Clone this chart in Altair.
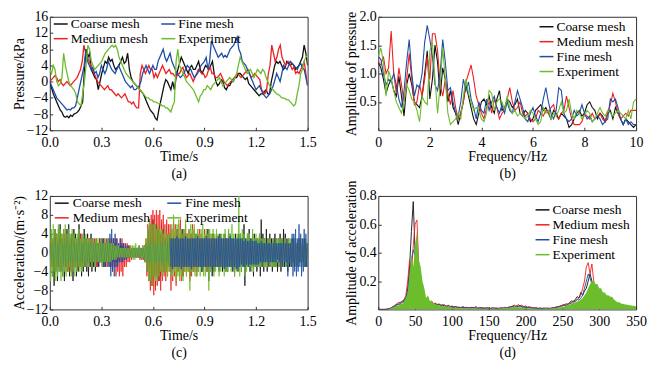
import altair as alt
import pandas as pd
import numpy as np

SERIES = ["Coarse mesh", "Medium mesh", "Fine mesh", "Experiment"]
COLORS = {"Coarse mesh": "#111111", "Medium mesh": "#ee2020",
          "Fine mesh": "#1f4ea6", "Experiment": "#6cbd2c"}
FONT = "Liberation Serif"

# ---------------- (a) pressure vs time (0 .. 1.5 s, 0.01 s step) ----------------
a_coarse = [0,-1.5,-3,-4,-5,-6,-7,-7.5,-8.5,-8.8,-8.5,-8.9,-8.3,-8.6,-8,-7.8,-7.5,-7,-6,-5,3,8,6,7,3,2,1,0.5,-2,0,2,3.5,5,4.5,6,5,5.5,4,3,3.5,4,5,6,4.5,5,7,3,1,0,-0.5,-1,-1.5,-2,-2.5,-3,-4,-5,-6,-7,-7.5,-8,-9,-9.5,-7,-5,-3,-1,0.5,0,-1,-2,0,-2,1,3,4.5,6,5,4,3,2,3.5,4,3,3,4,5,3,2,3,4,3.5,3,4,5,2,0,-1,-0.5,0.5,0,-1.5,-2,-1,-1,0,0,1,1,2,2,1.5,1,0.5,1,-0.5,-1,-1.5,-2,-2.5,-3,-3.5,-3,-3,-2.5,-2,-3,-3,0,2,4,5,4.5,5,4,3,3.5,5,4.5,4,4.5,4,3,3.5,4,5,6,9,7,4]
a_medium = [0,0.5,1,1.5,1,0,0.5,-0.5,-1,-0.5,0,-0.5,-1,-0.5,0,0.5,1,2,3,5,9,7,6,5,4,3,2,1,0,-0.5,-1,-1.5,-2,-1.5,-1,-2,-2,-2.5,-3,-3.5,-3,-3.5,-4,-3.5,-3,-4,-5,-5,-5.5,-5,-6,-6.5,-6.5,2,4,3,2,3,4,3,3,1,2,1,2,3,4,3,2,2.5,3,2,2,1.5,1,2,2,3,3.5,2,1,1.5,2,1,0,1,2,3,2.5,2,2,1,1.5,3,3.5,2,2,1,1,1.5,2,1,0,-0.5,-1,-0.5,0,0.5,1,1.5,2,1.5,1,1.5,2,2.5,3,2,1,1.5,2,1.5,1,0.5,-2,-2.5,-3,-2,2,4,9,7,5,6,8,9,6,5,4,4.5,5,4,3,3.5,2,2.5,2,3,4,5,2,-1]
a_fine = [0,-1,-2,-3,-4,-4.5,-5,-5.5,-6,-6.5,-7,-6.8,-7,-6.5,-6.5,-6,-4,-2,0,2,4,8,5,4,3,3.5,2,2.5,1,2,4,3,2,3,5,4,3,2.5,2,3,4,3,2,1,0,-0.5,-1,-1.5,-1,-2,-2,-1.5,-1,0,2,3,4,3,2,3,4,3,3,5,6,7,8,6,5,6,7,5,4,3,2,1.5,1,1.5,2,3,4,3.5,3,2,1,1.5,2,3,4,4.5,5,6,3,5,10,9,8,7,6,6.5,7,6,6.5,6,7,8,8.5,9,10,11,8,7,5,4.5,4,3,2,1,0,-1,-2,-1.5,-1,-2,-3,-3.5,-4,-3.5,-3,-2,-1,0.5,2,1,0,2,4,3.5,3,4,5,4.5,4,3.5,3,4,4.5,3.5,3,1,-1]
a_exp = [3,2,4,3,0,-1,-0.5,1,7,4,2,0,-1,-1.5,-2,-3,-5,-5.5,-6,-3,0,4,9,8,5,4,3,3.5,4,4.5,5,6,7,7.5,8,8.5,9,8.5,9,8,6,5,4,3,2,1.5,1,0.5,0,-0.5,-1,-1.5,-2,-2.5,-3,-3.5,-4,-4,-4.5,-4.5,-5,-5,-5.2,-5.5,-5.5,-6,-6,-6.5,-6.5,-7,-7.5,-6,-5,5,8,4,3,2,1,0,-0.5,-1,-1.5,-2,-3,-4,-5,-3.5,-3,-2,-2,-1,-1.5,-2,-1,-0.5,0,0.5,1,0,-1,-0.5,0,0.5,1,0.5,0,1,2,4,6,5,4,3,2,2.5,3,2,1,2,3,2.5,2,3,2.5,1,0,-1,-1.5,-2,-2.5,-3,-3.2,-3.5,-4,-4,-4.2,-4.5,-4.5,-5,-5.5,-6,-5.5,-3,-1,2,3,5,6,6.5]

# ---------------- (b) pressure amplitude vs frequency (0 .. 10 Hz, 0.1 Hz step) ----------------
b_coarse = [1.2,1.1,0.9,0.65,0.8,0.9,0.7,0.6,0.95,0.6,0.25,0.8,1.0,0.8,0.5,0.45,0.4,0.6,1.0,1.4,0.55,0.9,1.5,1.2,0.6,1.1,0.9,0.5,0.7,0.4,0.3,0.1,0.3,0.5,0.8,0.6,0.4,0.2,0.1,0.3,0.5,0.55,0.45,0.6,0.4,0.3,0.55,0.7,0.35,0.4,0.55,0.5,0.4,0.45,0.55,0.3,0.25,0.35,0.3,0.15,0.2,0.35,0.4,0.45,0.35,0.4,0.3,0.2,0.35,0.3,0.2,0.3,0.25,0.2,0.05,0.1,0.2,0.3,0.35,0.25,0.3,0.45,0.5,0.4,0.35,0.2,0.3,0.25,0.15,0.3,0.35,0.2,0.4,0.3,0.2,0.1,0.2,0.15,0.1,0.05,0.1]
b_medium = [1.2,1.15,1.3,1.0,1.1,1.75,1.0,0.65,1.1,0.8,0.5,0.9,1.35,0.9,0.45,0.5,0.8,0.6,0.9,1.3,0.9,1.7,1.7,1.4,0.8,0.6,0.9,0.65,0.45,0.7,0.4,0.2,0.3,0.5,0.85,1.0,1.15,0.9,0.6,0.45,0.3,0.2,0.4,0.5,0.3,0.55,0.4,0.2,0.3,0.35,0.55,0.75,0.5,0.35,0.4,0.5,0.3,0.25,0.3,0.2,0.15,0.2,0.35,0.3,0.25,0.35,0.3,0.4,0.45,0.25,0.2,0.3,0.35,0.6,0.4,0.2,0.1,0.1,0.1,0.15,0.3,0.25,0.2,0.3,0.2,0.25,0.3,0.2,0.15,0.3,0.45,0.65,0.5,0.3,0.2,0.25,0.3,0.25,0.35,0.35,0.35]
b_fine = [1.3,1.25,1.0,0.8,0.9,0.85,1.0,0.8,0.55,0.4,0.7,1.2,1.6,1.0,0.6,0.8,0.75,1.0,1.55,1.85,1.6,1.3,0.8,0.7,1.0,1.6,1.2,0.7,0.75,0.5,0.3,0.25,0.5,0.9,0.7,0.85,0.55,0.4,0.2,0.5,0.35,0.3,0.55,0.35,0.5,0.6,0.4,0.3,0.45,0.3,0.5,0.35,0.3,0.5,0.7,0.55,0.4,0.2,0.15,0.3,0.4,0.25,0.15,0.3,0.55,0.75,0.5,0.3,0.2,0.35,0.75,0.7,0.3,0.2,0.15,0.2,0.35,0.25,0.3,0.45,0.3,0.2,0.25,0.15,0.2,0.25,0.2,0.1,0.15,0.2,0.55,0.5,0.55,0.4,0.2,0.1,0.2,0.1,0.15,0.1,0.1]
b_exp = [1.3,1.45,1.2,0.6,1.05,0.9,0.7,0.5,0.4,0.3,0.5,0.8,0.7,0.55,0.5,0.35,0.15,0.6,0.5,0.45,1.4,1.55,0.9,0.3,0.8,1.45,0.9,0.3,0.1,0.15,0.2,0.3,0.2,0.6,0.9,0.65,0.5,0.35,0.4,0.35,0.2,0.15,0.3,0.7,0.65,0.35,0.5,0.55,0.5,0.35,0.6,0.4,0.3,0.35,0.25,0.3,0.25,0.2,0.25,0.35,0.3,0.2,0.1,0.15,0.4,0.3,0.35,0.2,0.3,0.25,0.35,0.5,0.3,0.35,0.55,0.3,0.2,0.35,0.3,0.2,0.25,0.35,0.3,0.15,0.2,0.3,0.4,0.3,0.25,0.35,0.3,0.25,0.3,0.35,0.3,0.25,0.2,0.35,0.2,0.5,0.55]

# ---------------- (c) acceleration vs time (0 .. 1.5 s, 0.005 s step) ----------------
c_coarse = [2,-3,4,-5,3,-7,5,-4,4,-6,5,-3,6,-4,3,-5,5,-6,4,-3,
            5,-4,6,-5,3,-4,4,-6,5,-3,4,-5,3,-4,6,-3,4,-5,3,-4,
            5,-3,3,-4,4,-5,3,-3,4,-4,3,-3,2,-4,3,-3,2,-3,3,-2,3,
            -2,3,-3,2,-3,2,-2,3,-2,2,-3,2,-2,3,-2,2,-2,1.5,-2,2,
            -1.5,1.5,-1,1.5,-1,1,-1.5,1,-1,1,-1,1.5,-1,1,-1,1,-1,1,-1,1,
            -1,1,-1,1.5,-1,1,-1.5,1,-1,1.5,-2,2,-4,5,-6,7,-6,6,-7,7,
            -5,6,-7,6,-5,5,-6,4,-5,6,-4,5,-4,3,-4,4,-3,4,-3,4,
            -4,3,-3,4,-4,3,-3,5,-4,3,-4,4,-3,5,-5,4,-3,3,-4,4,
            -3,3,-5,4,-3,5,-4,3,-3,4,-4,3,-3,4,-3,3,-4,3,-3,4,
            -3,3,-4,5,-6,4,-3,3,-5,4,-4,3,-3,4,-3,3,-4,4,-3,3,
            -4,3,-3,4,-4,3,-4,5,-3,4,-3,3,-4,3,-5,4,-3,3,-4,4,
            -3,4,-4,3,-3,6,-7,3,-3,4,-3,5,-4,3,-3,4,-5,4,-3,3,
            -4,3,-3,4,-5,7,-3,4,-4,3,-3,5,-4,3,-3,4,-3,3,-4,3,
            -3,4,-3,3,-4,3,-3,4,-4,3,-3,5,-3,4,-3,3,-4,3,-3,2,
            -3,3,-2,3,-3,2,-3,2,-3,3,-2,3,-3,2,-2,3,-3,2,-3,2]
c_medium = [1,-3,3,-4,3,-2,4,-3,3,-4,4,-3,2,-3,4,-2,3,-3,5,-4,
            3,-3,2,-4,3,-3,4,-3,2,-2,3,-4,3,-3,2,-3,4,-3,3,-2,
            2,-3,3,-2,3,-3,2,-2,3,-3,2,-2,3,-2,2,-3,2,-2,3,-2,2,
            -3,2,-2,3,-2,3,-3,2,-3,3,-2,3,-4,2,-3,3,-5,3,-4,2,
            -5,3,-4,3,-5,2,-3,2,-3,2,-2,1.5,-2,1.5,-1.5,1,-1,1,-1,1,
            -1,1,-1,1,-1.5,1,-1,1.5,-1.5,1.5,-2,3,-5,6,-6,7,-8,8,-7,9,
            -9,8,-8,9,-7,8,-6,9,-8,7,-6,8,-5,6,-6,7,-5,6,-4,6,
            -8,5,-6,7,-5,6,-7,5,-4,6,-5,7,-6,4,-5,5,-4,6,-5,4,
            -4,5,-6,4,-5,6,-4,5,-4,3,-5,4,-4,5,-3,4,-4,3,-4,5,
            -3,4,-4,3,-3,4,-4,3,-3,4,-3,3,-3,4,-3,2,-3,3,-2,3,
            -3,2,-3,3,-2,3,-3,2,-2,3,-2,2,-3,2,-2,3,-2,2,-2,2,
            -2,3,-2,2,-2,2,-2,2,-1.5,2,-2,1.5,-1.5,2,-1.5,1.5,-1.5,1.5,-1,1.5,
            -1.5,1,-1,1.5,-1,1,-1,1,-1,1,-1,1,-1,1,-1,1,-1,1,-1,1,
            -1,1,-1,1,-1,1,-1,1,-1,1,-1.5,1,-1,1.5,-1.5,1.5,-1.5,2,-2,1.5,
            -1.5,2,-2,1.5,-1.5,2,-2,1.5,-1.5,2,-1.5,1.5,-2,2,-1.5,1.5,-1.5,1,-1,1]
c_fine = [0.5,-2,2,-3,2,-2,3,-2,2,-3,2,-4,3,-2,2,-3,2,-2,3,-3,
          2,-2,4,-3,2,-2,3,-2,2,-3,2,-2,2,-3,3,-2,2,-2,3,-2,
          2,-3,2,-2,2,-2,3,-2,2,-2,2,-2,2,-3,2,-2,2,-2,2,-2,2,
          -2,3,-3,2,-3,2,-2,3,-3,4,-5,5,-4,3,-5,4,-3,3,-3,2,
          -2,3,-2,2,-2,2,-1.5,1.5,-1.5,1.5,-1,1,-1,1,-1,1,-1,1,-1,1,
          -1,1,-1,1,-1,1,-1,1,-1,1,-1.5,1.5,-2,1.5,-2,2,-2,2.5,-2,2,
          -2,1.5,-2,2,-2.5,2,-2,2.5,-2,2,-2.5,2,-2,2.5,-2,2,-2.5,2.5,-2.5,3,
          -3,3,-3.5,3,-3,3,-3,3.5,-3,3,-3,3,-3.5,3,-3,3,-3,3.5,-3,3,
          -3,3,-3,3,-3.5,3,-3,3,-3,3,-3,3.5,-3,3,-3,3,-4,3,-3,3,
          -3,3.5,-3,3,-3,3,-3,3,-3.5,3,-3,3,-3,3,-3,3.5,-3,3,-3,3,
          -3,3,-3.5,3,-3,3,-3,3,-3,3.5,-3,3,-3,3,-3,3,-3.5,3,-3,3,
          -3,3,-2.5,3,-3,2.5,-3,3,-2.5,2.5,-3,2.5,-2.5,3,-2.5,2.5,-2.5,2.5,-2.5,2.5,
          -2.5,2,-2.5,2,-2,2.5,-2,2,-2,2,-2,2,-2,2,-2,2,-2,2,-2,2,
          -2,2,-2,2,-1.5,2,-2,2,-2,2,-3,2,-2,2,-2,2,-5,2,-2,2,
          -3,4,-5,4,-4,5,-5,3,-4,6,-3,4,-5,3,-4,5,-3,4,-3,2]
c_exp = [7.5,-6,5,-5,6,-4,5,-6,4,-5,6,-4,5,-6,4,-5,5,-4,6,-5,
         4,-4,5,-3,4,-5,5,-4,4,-5,3,-4,4,-3,5,-4,3,-4,4,-3,
         3,-3,4,-3,3,-3,3,-2,3,-3,3,-2,2,-3,3,-2,3,-2,2,-2,3,
         -3,2,-2,3,-2,2,-2,3,-2,2,-2,2,-1.5,2,-1.5,1.5,-1.5,1.5,-1,1.5,
         -1,1,-1,1,-1,1,-1,1,-1,1,-1,1,-1,1.5,-1,1.5,-1.5,1.5,-1.5,2,
         -1,1,-1,1.5,-1,1,-1.5,1.5,-1,1.5,-2,3,-4,5,-6,7,-6,6,-7,6,
         -5,6,-6,5,-6,6,-5,5,-4,5,-5,4,-4,5,-4,4,-5,4,-4,4,
         -5,6,-5,8,-4,5,-6,6,-5,7,-6,5,-5,4,-6,5,-4,7,-5,4,
         -4,5,-8,6,-4,5,-4,6,-5,4,-5,5,-4,4,-5,5,-4,6,-5,4,
         -5,5,-4,4,-8,5,-4,4,-3,5,-5,4,-4,5,-3,4,-5,3,-4,4,
         -3,4,-5,5,-4,3,-4,5,-3,4,-4,6,-3,4,-5,3,-4,4,-3,12,
         -5,4,-4,5,-3,4,-5,3,-4,4,-3,4,-3,3,-4,5,-4,3,-3,4,
         -3,3,-3,4,-3,3,-2,3,-3,3,-3,2,-3,3,-2,3,-3,2,-3,3,
         -3,2,-3,3,-2,3,-3,3,-2,3,-3,2,-2,3,-3,2,-3,3,-2,3,
         -3,2,-3,3,-2,3,-3,2,-3,3,-2,3,-3,2,-3,2,-3,3,-2,2]

# ---------------- (d) acceleration amplitude vs frequency (0 .. 350 Hz, 2.5 Hz step) ----------------
d_coarse = [0,0,0,0,0,0.002,0.005,
            0.01,0.015,0.02,0.03,0.035,0.04,
            0.05,0.06,0.08,0.15,
            0.3,0.55,0.76,0.4,0.3,0.15,0.12,0.08,
            0.07,0.05,0.06,0.04,0.05,0.03,
            0.04,0.03,0.035,0.03,0.025,0.03,0.02,0.025,0.02,0.02,
            0.015,0.02,0.01,0.015,0.012,0.02,0.01,0.015,0.01,0.012,0.015,0.01,0.02,0.008,0.01,0.012,0.01,0.008,0.01,0.006,0.008,0.01,0.006,0.008,0.005,0.008,0.006,0.005,0.008,0.01,0.012,0.015,
            0.02,0.015,0.025,0.02,0.03,0.015,0.02,0.01,0.015,0.01,0.012,0.01,
            0.008,0.01,0.006,0.008,0.005,0.006,0.008,0.006,0.005,0.008,0.01,0.012,0.015,0.02,0.025,0.03,
            0.03,0.04,0.035,0.05,0.06,0.055,0.07,0.09,0.08,0.12,0.1,0.13,
            0.15,0.2,0.25,0.2,0.15,0.12,
            0.1,0.08,0.07,0.06,0.05,0.045,0.04,0.035,0.03,0.03,
            0.025,0.02,0.025,0.02,0.015,0.02,0.015,0.012,0.015,0.01,0.012,0.01]
d_medium = [0,0,0,0,0,0.003,0.006,
            0.012,0.02,0.03,0.04,0.05,0.045,
            0.06,0.07,0.1,0.2,
            0.35,0.25,0.45,0.6,0.63,0.3,0.15,0.1,
            0.08,0.06,0.07,0.05,0.06,0.04,
            0.045,0.035,0.04,0.03,0.035,0.03,0.025,0.03,0.02,0.025,
            0.02,0.015,0.02,0.012,0.015,0.01,0.015,0.012,0.01,0.015,0.01,0.012,0.01,0.008,0.012,0.01,0.008,0.01,0.008,0.01,0.006,0.01,0.008,0.01,0.008,0.01,0.012,0.01,0.015,0.012,0.018,0.02,
            0.025,0.03,0.02,0.035,0.025,0.03,0.02,0.025,0.015,0.02,0.015,0.01,
            0.012,0.01,0.008,0.01,0.008,0.01,0.008,0.01,0.008,0.01,0.012,0.015,0.02,0.018,0.025,0.03,
            0.035,0.03,0.04,0.045,0.05,0.06,0.055,0.07,0.08,0.1,0.15,0.2,
            0.3,0.33,0.25,0.32,0.2,0.15,
            0.12,0.1,0.08,0.07,0.06,0.05,0.045,0.04,0.035,0.03,
            0.03,0.025,0.02,0.025,0.02,0.018,0.015,0.02,0.015,0.012,0.01,0.012]
d_fine = [0,0,0,0,0,0.002,0.005,
          0.01,0.02,0.025,0.035,0.04,0.05,
          0.055,0.065,0.08,0.12,
          0.25,0.35,0.42,0.38,0.3,0.2,0.12,0.08,
          0.06,0.05,0.055,0.04,0.05,0.035,
          0.04,0.03,0.035,0.025,0.03,0.025,0.02,0.025,0.02,0.018,
          0.015,0.02,0.012,0.015,0.01,0.015,0.012,0.01,0.012,0.008,0.01,0.012,0.01,0.008,0.01,0.008,0.006,0.008,0.01,0.008,0.006,0.008,0.01,0.008,0.006,0.008,0.01,0.012,0.01,0.012,0.015,0.018,
          0.02,0.025,0.02,0.025,0.02,0.018,0.015,0.02,0.012,0.015,0.01,0.008,
          0.01,0.008,0.006,0.008,0.006,0.008,0.006,0.008,0.006,0.008,0.01,0.012,0.015,0.02,0.02,0.025,
          0.03,0.025,0.035,0.04,0.045,0.05,0.06,0.07,0.065,0.08,0.1,0.15,
          0.2,0.25,0.22,0.18,0.15,0.12,
          0.1,0.09,0.07,0.06,0.05,0.045,0.04,0.035,0.03,0.028,
          0.025,0.02,0.022,0.018,0.015,0.018,0.015,0.012,0.01,0.012,0.01,0.008]
d_exp = [0,0,0,0,0,0.003,0.005,
         0.01,0.015,0.02,0.03,0.025,0.04,
         0.04,0.06,0.08,0.12,
         0.25,0.38,0.3,0.45,0.55,0.35,0.3,0.2,
         0.15,0.08,0.1,0.06,0.06,0.04,
         0.04,0.03,0.03,0.025,0.025,0.02,0.02,0.02,0.02,0.015,
         0.01,0.012,0.012,0.01,0.008,0.01,0.01,0.008,0.008,0.006,0.006,0.008,0.008,0.006,0.006,0.005,0.005,0.006,0.006,0.005,0.005,0.006,0.006,0.005,0.005,0.008,0.008,0.01,0.01,0.012,0.012,0.015,
         0.015,0.02,0.02,0.015,0.015,0.012,0.012,0.01,0.01,0.008,0.008,0.006,
         0.006,0.005,0.005,0.005,0.005,0.006,0.006,0.006,0.006,0.008,0.008,0.01,0.012,0.015,0.015,0.02,
         0.02,0.025,0.03,0.035,0.04,0.045,0.05,0.055,0.06,0.07,0.08,0.1,
         0.12,0.15,0.18,0.2,0.2,0.18,
         0.18,0.15,0.15,0.12,0.12,0.1,0.1,0.09,0.09,0.07,
         0.06,0.05,0.05,0.04,0.04,0.035,0.035,0.03,0.03,0.025,0.025,0.02]


def frame(series_data, x0, x1, xvals, xfmt, yd, yvals, yfmt, xtitle, ytitle,
          legend, sw, draw_order=None, area_series=None):
    """draw_order: list of (series, start_index, end_index) pieces, drawn in order."""
    if draw_order is None:
        draw_order = [(s, 0, None) for s in SERIES]
    rng = [COLORS[s] for s in SERIES]
    layers = []
    for s, i0, i1 in draw_order:
        ys = series_data[s]
        full = pd.DataFrame({"x": np.linspace(x0, x1, len(ys)), "y": ys, "series": s})
        df = full.iloc[i0:i1]
        if s == area_series:
            base = alt.Chart(df).mark_area(opacity=1, clip=True)
        else:
            base = alt.Chart(df).mark_line(strokeWidth=sw, clip=True)
        layers.append(
            base.encode(
                x=alt.X("x:Q", scale=alt.Scale(domain=[x0, x1], nice=False, zero=False),
                        axis=alt.Axis(values=xvals, format=xfmt, title=xtitle,
                                      titleLineHeight=17, offset=-3, tickSize=3,
                                      domain=False, grid=False, labelPadding=5,
                                      titlePadding=0, labelFlush=False)),
                y=alt.Y("y:Q", scale=alt.Scale(domain=yd, nice=False, zero=False),
                        axis=alt.Axis(values=yvals, format=yfmt, title=ytitle,
                                      offset=-3, tickSize=3, domain=False, grid=False,
                                      labelPadding=2, titlePadding=0)),
                color=alt.Color("series:N", scale=alt.Scale(domain=SERIES, range=rng),
                                legend=legend),
            )
        )
    return alt.layer(*layers).properties(width=259, height=114)


def leg(**kw):
    return alt.Legend(title=None, symbolType="stroke", symbolSize=196,
                      symbolStrokeWidth=1.5, labelFont=FONT, labelFontSize=13.5,
                      padding=0, **kw)


pa = frame({"Coarse mesh": a_coarse, "Medium mesh": a_medium, "Fine mesh": a_fine,
            "Experiment": a_exp},
           0, 1.5, [0, 0.3, 0.6, 0.9, 1.2, 1.5], ".1f",
           [-12, 16], [-12, -8, -4, 0, 4, 8, 12, 16], "d",
           ["Time/s", "(a)"], "Pressure/kPa",
           leg(orient="none", legendX=3, legendY=-1, columns=2, columnPadding=10,
               rowPadding=-3, labelOffset=2),
           1.3)

pb = frame({"Coarse mesh": b_coarse, "Medium mesh": b_medium, "Fine mesh": b_fine,
            "Experiment": b_exp},
           0, 10, [0, 2, 4, 6, 8, 10], "d",
           [0, 2.0], [0.5, 1.0, 1.5, 2.0], ".1f",
           ["Frequency/Hz", "(b)"], "Amplitude of pressure",
           leg(orient="top-right", offset=2, rowPadding=-3, labelOffset=2),
           1.1)

pc = frame({"Coarse mesh": c_coarse, "Medium mesh": c_medium, "Fine mesh": c_fine,
            "Experiment": c_exp},
           0, 1.5, [0, 0.3, 0.6, 0.9, 1.2, 1.5], ".1f",
           [-12, 12], [-12, -8, -4, 0, 4, 8, 12], "d",
           ["Time/s", "(c)"], "Acceleration/(m·s⁻²)",
           leg(orient="none", legendX=4, legendY=-1, columns=2, columnPadding=14,
               rowPadding=-1, labelOffset=3),
           0.8,
           draw_order=[("Coarse mesh", 0, None), ("Medium mesh", 0, None),
                       ("Fine mesh", 0, 141), ("Experiment", 0, None),
                       ("Fine mesh", 140, None)])

pd_ = frame({"Coarse mesh": d_coarse, "Medium mesh": d_medium, "Fine mesh": d_fine,
             "Experiment": d_exp},
            0, 350, [0, 50, 100, 150, 200, 250, 300, 350], "d",
            [0, 0.8], [0.2, 0.4, 0.6, 0.8], ".1f",
            ["Frequency/Hz", "(d)"], "Amplitude of acceleration",
            leg(orient="top-right", offset=6, rowPadding=-3, labelOffset=2),
            0.9, area_series="Experiment")

chart = alt.concat(pa, pb, pc, pd_, columns=2,
                   spacing={"row": 66, "column": 71}, bounds="flush").resolve_scale(
    color="independent"
).properties(
    padding={"left": 3, "top": 0, "right": 5, "bottom": 0}
).configure_view(
    stroke="#333333", strokeWidth=1
).configure_axis(
    labelFont=FONT, titleFont=FONT, labelFontSize=14, titleFontSize=14,
    titleFontWeight="normal", labelColor="black", titleColor="black",
    tickColor="#333333", labelOverlap=False
).configure_legend(
    labelColor="black", rowPadding=-3
)

chart.save("out.html", embed_options={"renderer": "svg", "actions": False})
